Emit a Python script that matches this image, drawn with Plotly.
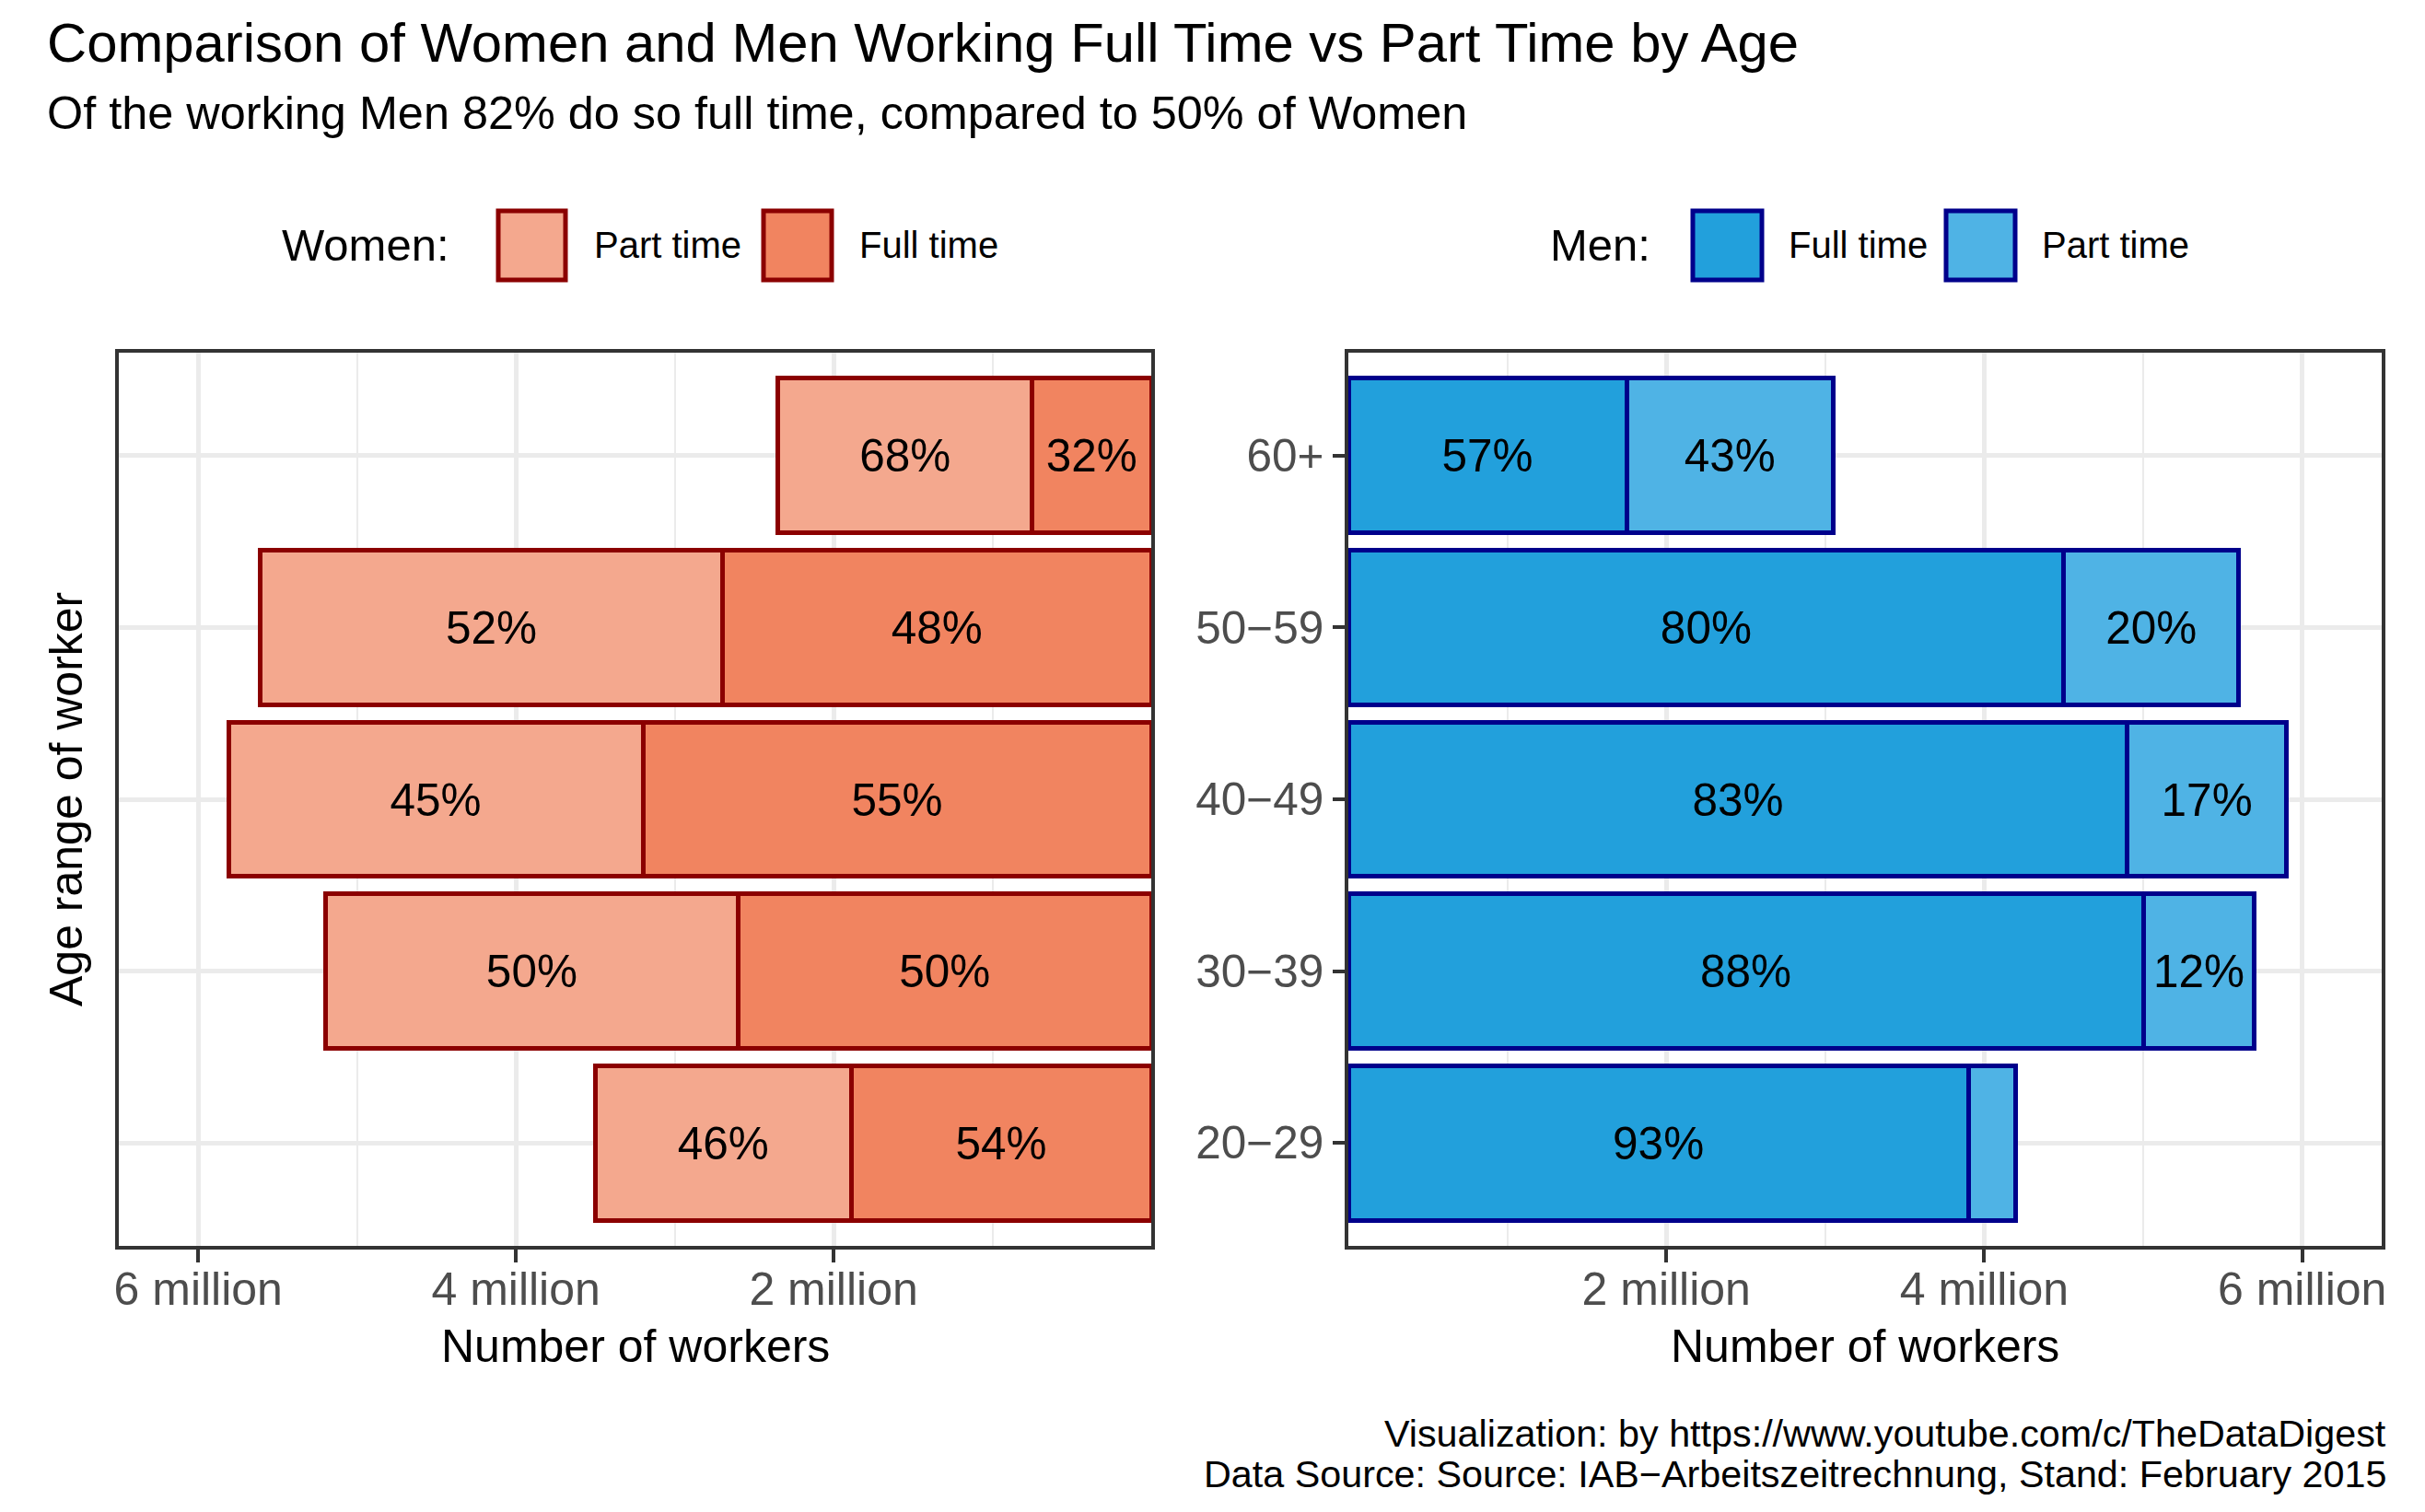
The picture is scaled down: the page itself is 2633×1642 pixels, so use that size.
import plotly.graph_objects as go

W, H = 2633, 1642

# ---- data ----
ages = ["20−29", "30−39", "40−49", "50−59", "60+"]
women_part = [1.61e6, 2.60e6, 2.61e6, 2.91e6, 1.60e6]
women_full = [1.89e6, 2.60e6, 3.20e6, 2.70e6, 0.75e6]
men_full = [3.90e6, 5.00e6, 4.90e6, 4.50e6, 1.75e6]
men_part = [0.30e6, 0.70e6, 1.00e6, 1.10e6, 1.30e6]
women_part_pct = ["46%", "50%", "45%", "52%", "68%"]
women_full_pct = ["54%", "50%", "55%", "48%", "32%"]
men_full_pct = ["93%", "88%", "83%", "80%", "57%"]
men_part_pct = ["", "12%", "17%", "20%", "43%"]
x_tick_vals = [2e6, 4e6, 6e6]
x_tick_text = ["2 million", "4 million", "6 million"]
x_minor_vals = [1e6, 3e6, 5e6]

# ---- style ----
FONT = "Liberation Sans, Arial, sans-serif"
W_PART, W_FULL, W_LINE = "#F4A88E", "#F18460", "#8B0000"
M_FULL, M_PART, M_LINE = "#22A0DC", "#4FB3E5", "#00008B"
GRID = "#EBEBEB"
AXC = "#333333"


def px(x):
    return x / W


def py(y):
    return 1 - y / H


L0, L1 = 129, 1250
R0, R1 = 1464, 2586
T, B = 383, 1353

fig = go.Figure()

bar_common = dict(orientation="h", width=0.9, textposition="inside",
                  insidetextanchor="middle", constraintext="none",
                  textangle=0, showlegend=False, hoverinfo="x+y",
                  textfont=dict(family=FONT, size=49.5, color="black"))

fig.add_trace(go.Bar(y=ages, x=women_full, text=women_full_pct, name="Full time",
                     marker=dict(color=W_FULL, line=dict(color=W_LINE, width=5)),
                     xaxis="x", yaxis="y", **bar_common))
fig.add_trace(go.Bar(y=ages, x=women_part, text=women_part_pct, name="Part time",
                     marker=dict(color=W_PART, line=dict(color=W_LINE, width=5)),
                     xaxis="x", yaxis="y", **bar_common))
fig.add_trace(go.Bar(y=ages, x=men_full, text=men_full_pct, name="Full time",
                     marker=dict(color=M_FULL, line=dict(color=M_LINE, width=5)),
                     xaxis="x2", yaxis="y2", **bar_common))
fig.add_trace(go.Bar(y=ages, x=men_part, text=men_part_pct, name="Part time",
                     marker=dict(color=M_PART, line=dict(color=M_LINE, width=5)),
                     xaxis="x2", yaxis="y2", **bar_common))

xcommon = dict(tickvals=x_tick_vals, ticktext=x_tick_text, ticks="outside",
               ticklen=14, tickwidth=3.5, tickcolor=AXC, ticklabelstandoff=-14,
               tickfont=dict(family=FONT, size=50, color="#4D4D4D"),
               showgrid=True, gridcolor=GRID, gridwidth=4.5,
               minor=dict(tickvals=x_minor_vals, showgrid=True, gridcolor=GRID,
                          gridwidth=2.3, ticks=""),
               showline=True, mirror=True, linecolor=AXC, linewidth=3.5,
               zeroline=False, automargin=False, fixedrange=True)
ycommon = dict(type="category", categoryorder="array", categoryarray=ages,
               range=[-0.6, 4.6], showgrid=True, gridcolor=GRID, gridwidth=4.5,
               showline=True, mirror=True, linecolor=AXC, linewidth=3.5,
               zeroline=False, automargin=False, fixedrange=True)

fig.update_layout(
    width=W, height=H, autosize=False,
    margin=dict(l=0, r=0, t=0, b=0, pad=0),
    paper_bgcolor="white", plot_bgcolor="white",
    barmode="stack", bargap=0.1,
    font=dict(family=FONT, color="black"),
    xaxis=dict(domain=[px(L0), px(L1)], range=[6.5e6, 0], anchor="y", **xcommon),
    xaxis2=dict(domain=[px(R0), px(R1)], range=[0, 6.5e6], anchor="y2", **xcommon),
    yaxis=dict(domain=[py(B), py(T)], anchor="x", showticklabels=False, ticks="", **ycommon),
    yaxis2=dict(domain=[py(B), py(T)], anchor="x2", showticklabels=True, ticks="outside",
                ticklen=13, tickwidth=3.5, tickcolor=AXC,
                tickfont=dict(family=FONT, size=49.5, color="#4D4D4D"), **ycommon),
)

ann = []


def text(x, y, s, size, xanchor="left", color="black", angle=0):
    ann.append(dict(x=px(x), y=py(y), xref="paper", yref="paper", text=s,
                    showarrow=False, xanchor=xanchor, yanchor="middle",
                    textangle=angle, font=dict(family=FONT, size=size, color=color)))


# titles
text(49, 46, "Comparison of Women and Men Working Full Time vs Part Time by Age", 59.8)
text(49, 123, "Of the working Men 82% do so full time, compared to 50% of Women", 50.4)
# axis titles
text((L0 + L1) / 2, 1462, "Number of workers", 50, xanchor="center")
text((R0 + R1) / 2, 1462, "Number of workers", 50, xanchor="center")
text(72, (T + B) / 2, "Age range of worker", 50, xanchor="center", angle=-90)
# captions
text(R1 + 7, 1557, "Visualization: by https://www.youtube.com/c/TheDataDigest", 41.3, xanchor="right")
text(R1 + 7, 1601, "Data Source: Source: IAB−Arbeitszeitrechnung, Stand: February 2015", 41.3, xanchor="right")

# legends (keys drawn as layout shapes)
shapes = []


def key(x0, x1, fill, line):
    shapes.append(dict(type="rect", xref="paper", yref="paper",
                       x0=px(x0), x1=px(x1), y0=py(304), y1=py(229),
                       fillcolor=fill, line=dict(color=line, width=5)))


LY = 266
text(304, LY, "Women:", 49)
key(541, 614, W_PART, W_LINE)
text(643, LY, "Part time", 40)
key(829, 903, W_FULL, W_LINE)
text(931, LY, "Full time", 40)

text(1681, LY, "Men:", 49)
key(1838, 1913, M_FULL, M_LINE)
text(1940, LY, "Full time", 40)
key(2113, 2188, M_PART, M_LINE)
text(2215, LY, "Part time", 40)

fig.update_layout(annotations=ann, shapes=shapes)

fig.write_html("out.html", config={"displayModeBar": False},
               post_script="document.body.style.margin='0';document.body.style.overflow='hidden';")
